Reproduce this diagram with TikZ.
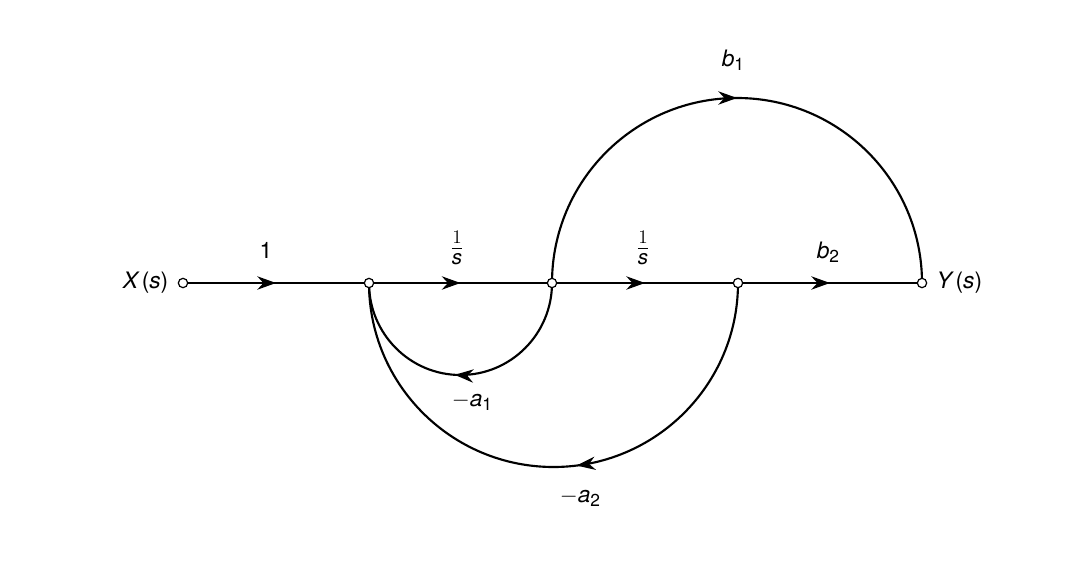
\documentclass[tikz,border=0pt]{standalone}
\usepackage{fontspec}
\setmainfont{TeX Gyre Heros}
\usetikzlibrary{decorations.markings,arrows.meta}
\pgfdeclarelayer{bg}\pgfsetlayers{bg,main}
\begin{document}
\begin{tikzpicture}[x=0.75pt,y=-0.75pt,
  pt/.style={circle,draw,fill=white,inner sep=0pt,minimum size=7pt,line width=0.9pt},
  br/.style={line width=1.6pt,postaction={decorate},decoration={markings,mark=at position #1 with {\arrow{Stealth[length=14pt,width=10pt]}}}},
  br/.default=0.5,
  lbl/.style={font=\fontsize{17}{17}\selectfont}]
\useasboundingbox (0,0) rectangle (1080,581);
\node[pt] (x) at (183,283) {};
\node[pt] (n1) at (369,283) {};
\node[pt] (n2) at (552,283) {};
\node[pt] (n3) at (738,283) {};
\node[pt] (y) at (922,283) {};
\node[lbl,anchor=east] (xl) at (173,283) {\itshape X\,\upshape(\itshape s\upshape)};
\node[lbl,anchor=west] (yl) at (932,283) {\itshape Y\,\upshape(\itshape s\upshape)};
\begin{pgfonlayer}{bg}
\draw[br] (x.center) -- (n1.center);
\draw[br] (n1.center) -- (n2.center);
\draw[br] (n2.center) -- (n3.center);
\draw[br] (n3.center) -- (y.center);
\draw[br=0.5] (n2.center) arc[start angle=180,end angle=360,radius=185];
\draw[br=0.52] (n2.center) arc[start angle=0,end angle=180,x radius=91.5,y radius=92];
\draw[br=0.46] (n3.center) arc[start angle=0,end angle=180,x radius=184.5,y radius=184];
\end{pgfonlayer}
\node[lbl] (l1) at (266,250) {1};
\node[font=\fontsize{22}{22}\selectfont] (l2) at (457,248) {$\frac{1}{\mathit{s}}$};
\node[font=\fontsize{22}{22}\selectfont] (l3) at (643,248) {$\frac{1}{\mathit{s}}$};
\node[lbl] (lb2) at (828,252) {\itshape b\upshape\fontsize{13}{13}\selectfont\raisebox{-3pt}{2}};
\node[lbl] (lb1) at (733,60) {\itshape b\upshape\fontsize{13}{13}\selectfont\raisebox{-3pt}{1}};
\node[lbl] (la1) at (472,402) {$-$\itshape a\upshape\fontsize{13}{13}\selectfont\raisebox{-3pt}{1}};
\node[lbl] (la2) at (580,498) {$-$\itshape a\upshape\fontsize{13}{13}\selectfont\raisebox{-3pt}{2}};
\end{tikzpicture}
\end{document}
